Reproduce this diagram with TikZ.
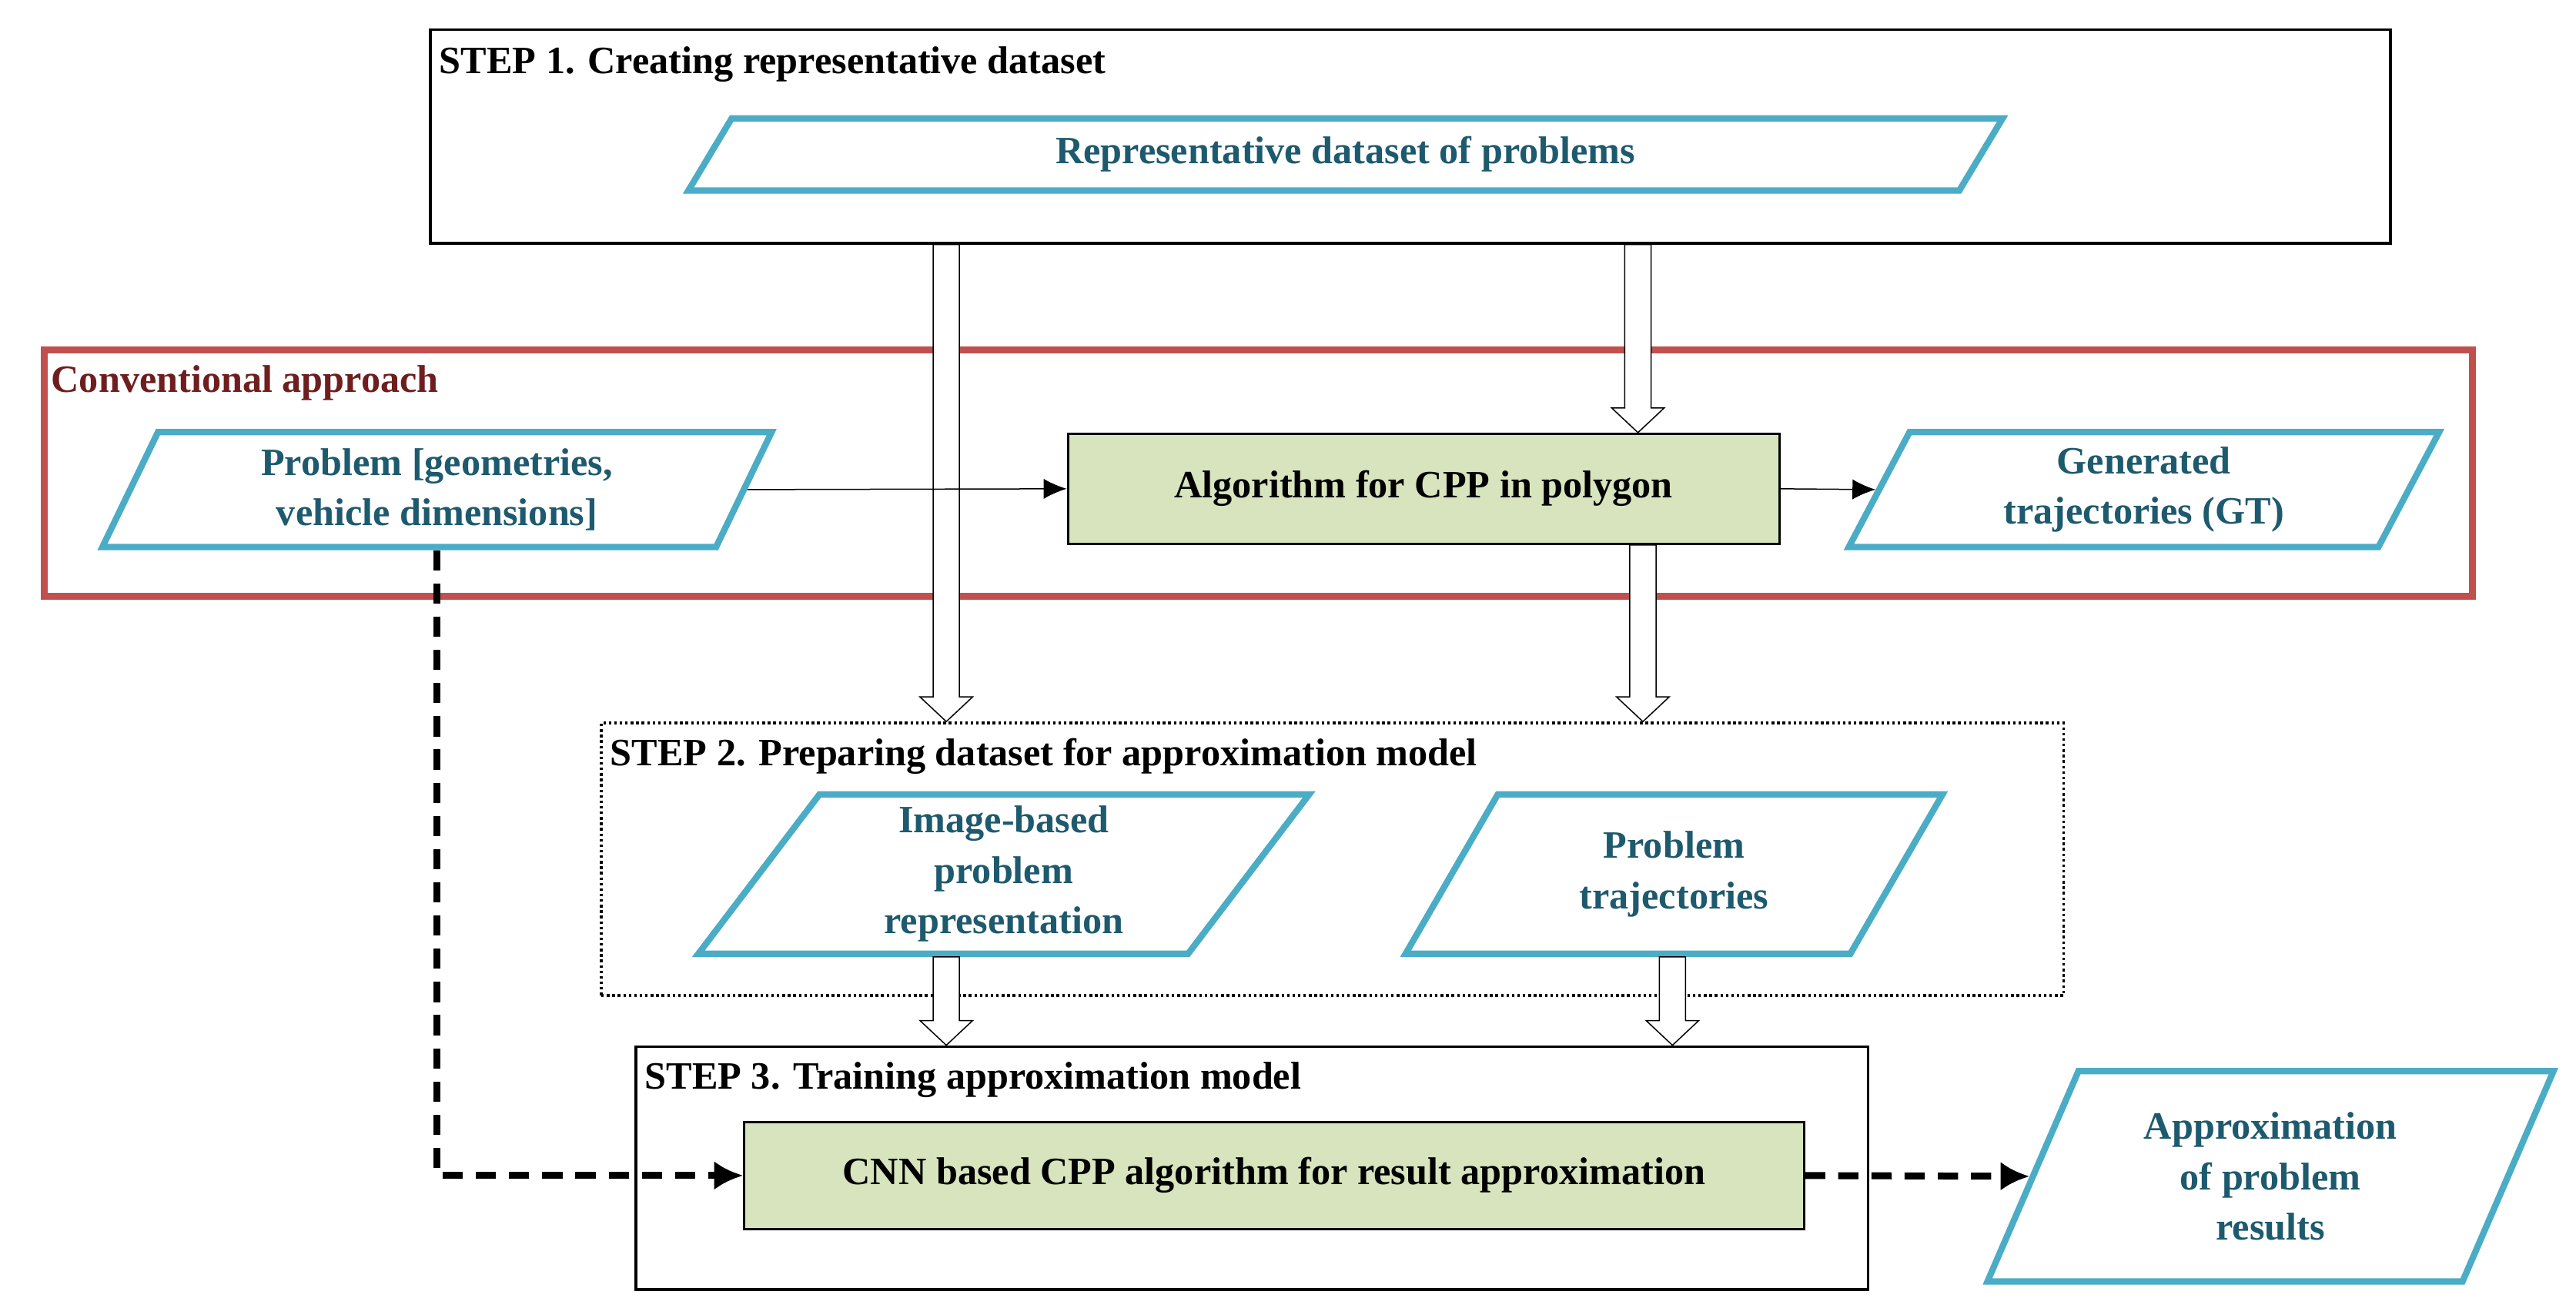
\documentclass[tikz,border=0pt]{standalone}
\usepackage{fontspec}
\setmainfont{Liberation Serif}
\usetikzlibrary{calc,positioning,shapes.geometric,arrows.meta}
\definecolor{boxblue}{RGB}{75,172,198}
\definecolor{txtteal}{RGB}{30,90,110}
\definecolor{redline}{RGB}{192,80,77}
\definecolor{darkred}{RGB}{110,30,30}
\definecolor{algfill}{RGB}{215,228,189}
\newcommand{\harrow}[2]{\draw[fill=white] ($#1+(-0.16,0)$) -- ($#2+(-0.16,0.3)$) -- ($#2+(-0.32,0.3)$) -- #2 -- ($#2+(0.32,0.3)$) -- ($#2+(0.16,0.3)$) -- ($#1+(0.16,0)$) -- cycle;}
\tikzset{
  every node/.style={font=\fontsize{13.4}{17.5}\selectfont\bfseries},
  stepbox/.style={draw,line width=0.9pt,inner sep=0pt},
  data/.style={trapezium,trapezium left angle=#1,trapezium right angle=180-#1,trapezium stretches=true,
    draw=boxblue,line width=2.2pt,text=txtteal,align=center,inner sep=0pt},
  algo/.style={draw,fill=algfill,line width=0.8pt,inner sep=0pt},
  steplabel/.style={anchor=north west,inner sep=0pt},
  flow/.style={line width=2.4pt,dash pattern=on 7pt off 4.5pt,-{Latex[length=10pt,width=10pt]}}
}
\begin{document}
\begin{tikzpicture}
\useasboundingbox (0,0) rectangle (31.36,-16);
% step 1
\node[stepbox,minimum width=23.86cm,minimum height=2.6cm] (s1) at (17.17,-1.66) {};
\node[steplabel] at ($(s1.north west)+(0.12,-0.22)$) {STEP 1. Creating representative dataset};
\node[data=60,minimum width=16.04cm,minimum height=0.88cm] (rep) at (16.38,-1.88) {Representative dataset of problems};
% conventional approach
\node[draw=redline,line width=2.4pt,minimum width=29.56cm,minimum height=3.0cm] (conv) at (15.32,-5.76) {};
\node[steplabel,text=darkred] at ($(conv.north west)+(0.12,-0.22)$) {Conventional approach};
\node[data=67,minimum width=8.16cm,minimum height=1.4cm] (prob) at (5.32,-5.96) {Problem [geometries,\\vehicle dimensions]};
\node[algo,minimum width=8.66cm,minimum height=1.34cm] (alg) at (17.33,-5.95) {Algorithm for CPP in polygon};
\node[data=67,minimum width=7.2cm,minimum height=1.4cm] (gen) at (26.1,-5.96) {Generated\\trajectories (GT)};
% step 2
\node[stepbox,densely dotted,minimum width=17.8cm,minimum height=3.32cm] (s2) at (16.22,-10.46) {};
\node[steplabel] at ($(s2.north west)+(0.12,-0.2)$) {STEP 2. Preparing dataset for approximation model};
\node[data=60,minimum width=7.44cm,minimum height=1.94cm] (img) at (12.22,-10.64) {Image-based\\problem\\representation};
\node[data=60,minimum width=6.56cm,minimum height=1.94cm] (traj) at (20.38,-10.64) {Problem\\trajectories};
% step 3
\node[stepbox,minimum width=15.0cm,minimum height=2.96cm] (s3) at (15.24,-14.22) {};
\node[steplabel] at ($(s3.north west)+(0.12,-0.2)$) {STEP 3. Training approximation model};
\node[algo,minimum width=12.9cm,minimum height=1.3cm] (cnn) at (15.51,-14.31) {CNN based CPP algorithm for result approximation};
\node[data=65,minimum width=6.9cm,minimum height=2.56cm] (app) at (27.64,-14.32) {Approximation\\of problem\\results};
% hollow arrows
\coordinate (a1) at (s1.south -| 11.52,0);
\coordinate (b1) at (s2.north -| 11.52,0);
\coordinate (a2) at (s1.south -| 19.94,0);
\coordinate (b2) at (alg.north -| 19.94,0);
\coordinate (a3) at (alg.south -| 20.0,0);
\coordinate (b3) at (s2.north -| 20.0,0);
\coordinate (a4) at (img.south -| 11.52,0);
\coordinate (b4) at (s3.north -| 11.52,0);
\coordinate (a5) at (traj.south -| 20.36,0);
\coordinate (b5) at (s3.north -| 20.36,0);
\harrow{(a1)}{(b1)}
\harrow{(a2)}{(b2)}
\harrow{(a3)}{(b3)}
\harrow{(a4)}{(b4)}
\harrow{(a5)}{(b5)}
% connectors
\draw[-{Latex[length=8pt,width=7pt]}] (prob.east) -- (alg.west);
\draw[-{Latex[length=8pt,width=7pt]}] (alg.east) -- (gen.west);
\draw[flow] (prob.south) |- (cnn.west);
\draw[flow] (cnn.east) -- (app.west);
\end{tikzpicture}
\end{document}
